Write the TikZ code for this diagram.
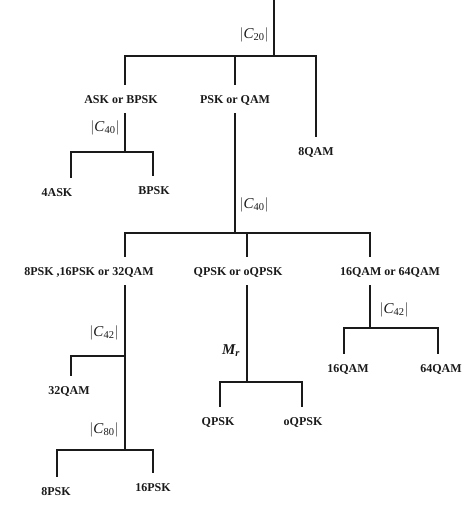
\documentclass[tikz,border=0pt]{standalone}
\usepackage{fontspec}
\setmainfont{Liberation Serif}
\usepackage{tikz}
\usetikzlibrary{positioning,calc}
\definecolor{ink}{HTML}{1A1A1A}
\tikzset{
  lbl/.style={font=\bfseries\fontsize{12}{14}\selectfont,text=ink,
              text height=8pt,text depth=0pt,inner xsep=1pt,inner ysep=10pt},
  cumlbl/.style={font=\fontsize{15}{18}\selectfont,text=ink,inner sep=1pt},
  branch/.style={draw=ink,line width=1.8pt}
}
\newcommand{\cum}[1]{$\bigl|\textit{C}_{\mathrm{#1}}\bigr|$}

\begin{document}
\begin{tikzpicture}[x=1pt,y=-1pt]
    \path[use as bounding box] (0,0) rectangle (474,517);
    % first level, |C20|
    \coordinate (root) at (274,0);
    \coordinate (c20) at (274,56);
    \coordinate (c20l) at (125,56);
    \coordinate (c20r) at (316,56);
    \node[lbl] (askbpsk) at (121,99) {ASK or BPSK};
    \node[lbl] (pskqam) at (235,99) {PSK or QAM};
    \node[lbl] (qam8) at (316,151) {8QAM};
    \node[cumlbl] (c20txt) at (254,35) {\cum{20}};
    \draw[branch] (root) -- (c20);
    \draw[branch] (c20l |- askbpsk.north) -- (c20l) -- (c20r) -- (qam8.north);
    \draw[branch] (pskqam.north) -- (pskqam.north |- c20);
    % ASK or BPSK, |C40|
    \coordinate (c40a) at (125,152);
    \coordinate (c40al) at (71,152);
    \coordinate (c40ar) at (153,152);
    \node[cumlbl] (c40atxt) at (105,128) {\cum{40}};
    \node[lbl] (ask4) at (57,192) {4ASK};
    \node[lbl] (bpsk) at (154,190) {BPSK};
    \draw[branch] (c20l |- askbpsk.south) -- (c40a);
    \draw[branch] (c40al |- ask4.north) -- (c40al) -- (c40ar) -- (c40ar |- bpsk.north);
    % PSK or QAM, |C40|
    \coordinate (c40b) at (235,233);
    \coordinate (c40bl) at (125,233);
    \coordinate (c40bm) at (247,233);
    \coordinate (c40br) at (370,233);
    \node[cumlbl] (c40btxt) at (254,205) {\cum{40}};
    \node[lbl] (mpsk) at (89,271) {8PSK ,16PSK or 32QAM};
    \node[lbl] (qpskgrp) at (238,271) {QPSK or oQPSK};
    \node[lbl] (qamgrp) at (390,271) {16QAM or 64QAM};
    \draw[branch] (pskqam.south) -- (c40b);
    \draw[branch] (c40bl |- mpsk.north) -- (c40bl) -- (c40br) -- (c40br |- qamgrp.north);
    \draw[branch] (c40bm |- qpskgrp.north) -- (c40bm);
    % 8PSK, 16PSK or 32QAM: |C42| then |C80|
    \coordinate (c42a) at (125,356);
    \coordinate (c42al) at (71,356);
    \coordinate (c80) at (125,450);
    \coordinate (c80l) at (57,450);
    \coordinate (c80r) at (153,450);
    \node[cumlbl] (c42atxt) at (104,333) {\cum{42}};
    \node[cumlbl] (c80txt) at (104,430) {\cum{80}};
    \node[lbl] (qam32) at (69,390) {32QAM};
    \node[lbl] (psk8) at (56,491) {8PSK};
    \node[lbl] (psk16) at (153,487) {16PSK};
    \draw[branch] (c40bl |- mpsk.south) -- (c80);
    \draw[branch] (c42al |- qam32.north) -- (c42al) -- (c42a);
    \draw[branch] (c80l |- psk8.north) -- (c80l) -- (c80r) -- (c80r |- psk16.north);
    % QPSK or oQPSK, M_r
    \coordinate (mr) at (247,382);
    \coordinate (mrl) at (220,382);
    \coordinate (mrr) at (302,382);
    \node[cumlbl] (mrtxt) at (231,351) {\bfseries\itshape M\textsubscript{r}};
    \node[lbl] (qpsk) at (218,421) {QPSK};
    \node[lbl] (oqpsk) at (303,421) {oQPSK};
    \draw[branch] (c40bm |- qpskgrp.south) -- (mr);
    \draw[branch] (mrl |- qpsk.north) -- (mrl) -- (mrr) -- (mrr |- oqpsk.north);
    % 16QAM or 64QAM, |C42|
    \coordinate (c42b) at (370,328);
    \coordinate (c42bl) at (344,328);
    \coordinate (c42br) at (438,328);
    \node[cumlbl] (c42btxt) at (394,310) {\cum{42}};
    \node[lbl] (qam16) at (348,368) {16QAM};
    \node[lbl] (qam64) at (441,368) {64QAM};
    \draw[branch] (c40br |- qamgrp.south) -- (c42b);
    \draw[branch] (c42bl |- qam16.north) -- (c42bl) -- (c42br) -- (c42br |- qam64.north);
  \end{tikzpicture}
\end{document}
